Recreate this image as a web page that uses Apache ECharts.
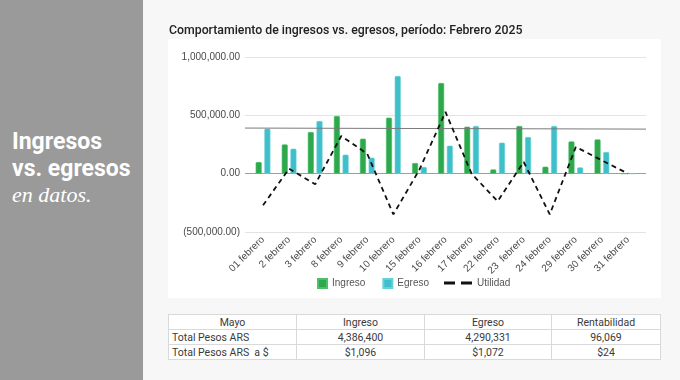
<!DOCTYPE html>
<html>
<head>
<meta charset="utf-8">
<script src="https://cdn.jsdelivr.net/npm/echarts@6/dist/echarts.min.js"></script>
<style>
html,body{margin:0;padding:0;width:680px;height:380px;overflow:hidden;background:#f7f7f7;font-family:Roboto,"Liberation Sans",sans-serif;}
#side{position:absolute;left:0;top:0;width:143px;height:380px;background:#9a9a9a;}
#side .t{position:absolute;left:12px;color:#fff;font-family:Roboto,sans-serif;font-weight:700;font-size:23px;line-height:26px;}
#side .s{position:absolute;left:12px;color:#fff;font-family:"Liberation Serif","DejaVu Serif",serif;font-style:italic;font-size:22px;}
#box{position:absolute;left:168px;top:39px;width:493px;height:259px;background:#fff;}
#chart{position:absolute;left:0;top:0;width:680px;height:380px;}
table{position:absolute;left:168px;top:314px;border-collapse:collapse;background:#fff;font-family:Roboto,sans-serif;font-size:10.5px;color:#3a3a3a;}
td{border:1px solid #d9d9d9;height:14px;padding:0 3px;text-align:center;white-space:nowrap;}
td.l{text-align:left;}
</style>
</head>
<body>
<div id="side">
  <div class="t" style="top:129px">Ingresos</div>
  <div class="t" style="top:156px">vs. egresos</div>
  <div class="s" style="top:182px">en datos.</div>
</div>
<div id="box"></div>
<table id="tbl"></table>
<div id="chart"></div>
<script>
var categorias = ["01 febrero","2 febrero","3 febrero","8 febrero","9 febrero","10 febrero","15 febrero","16 febrero","17 febrero","22 febrero","23  febrero","24 febrero","29 febrero","30 febrero","31 febrero"];
var ingreso = [100000,251000,357000,494000,300000,480000,91000,777000,403000,37000,409000,60000,277000,294000,0];
var egreso  = [386000,214000,451000,163000,137000,837000,57000,240000,409000,266000,314000,409000,54000,186000,0];
var utilidad = [-271000,43000,-91000,323000,170000,-349000,35000,529000,0,-237000,100000,-349000,229000,114000,0];
var lineaReferencia = [391000,382000];
var yTicks = [-500000,0,500000,1000000];

var tablaEncabezado = ["Mayo","Ingreso","Egreso","Rentabilidad"];
var tablaFila1 = ["Total Pesos ARS","4,386,400","4,290,331","96,069"];
var tablaFila2 = ["Total Pesos ARS\u00a0 a $","$1,096","$1,072","$24"];

(function(){
  var widths=[128,128,127,109];
  var html='';
  [tablaEncabezado,tablaFila1,tablaFila2].forEach(function(r,ri){
    html+='<tr>';
    r.forEach(function(c,ci){
      html+='<td class="'+(ci===0&&ri>0?'l':'')+'" style="width:'+(widths[ci]-7)+'px">'+c+'</td>';
    });
    html+='</tr>';
  });
  document.getElementById('tbl').innerHTML=html;
})();

function fmt(v){
  var s=Math.abs(v).toLocaleString('en-US',{minimumFractionDigits:2,maximumFractionDigits:2});
  return v<0?'('+s+')':s;
}

var chart = echarts.init(document.getElementById('chart'),null,{renderer:'canvas'});
var axisFont = {fontFamily:'"Liberation Sans",Arial,sans-serif',fontSize:10,color:'#4a4a4a'};
chart.setOption({
  animation:false,
  textStyle:{fontFamily:'"Liberation Sans",Arial,sans-serif'},
  title:{text:'Comportamiento de ingresos vs. egresos, período: Febrero 2025',left:169,top:25,padding:0,
    textStyle:{fontFamily:'Roboto,sans-serif',fontSize:12.3,fontWeight:500,color:'#222'}},
  legend:[
    {data:[{name:'Ingreso',icon:'rect'},{name:'Egreso',icon:'rect'}],left:317,top:278,padding:0,itemWidth:9,itemHeight:9,itemGap:17,
      textStyle:{fontSize:10,color:'#555'}},
    {data:[{name:'Utilidad',icon:'path://M0,0h11v3h-11zM17,0h11v3h-11z'}],left:444,top:278,padding:0,itemWidth:28,itemHeight:3,itemGap:7,
      itemStyle:{color:'#111'},textStyle:{fontSize:10,color:'#555'}}
  ],
  grid:[
    {left:250,right:39,top:57,bottom:148,containLabel:false},
    {left:245,right:34,top:57,bottom:148,containLabel:false}
  ],
  xAxis:[
    {type:'category',gridIndex:0,data:categorias,boundaryGap:true,
      axisLine:{show:false},axisTick:{show:false},
      axisLabel:Object.assign({rotate:45,interval:0,margin:6},axisFont)},
    {type:'value',gridIndex:1,min:0,max:1,show:false}
  ],
  yAxis:[
    {type:'value',gridIndex:0,min:-500000,max:1000000,interval:500000,show:false,splitLine:{show:false}},
    {type:'value',gridIndex:1,min:yTicks[0],max:yTicks[yTicks.length-1],interval:500000,
      axisLine:{show:false},axisTick:{show:false},
      axisLabel:Object.assign({margin:5,formatter:fmt},axisFont),
      splitLine:{lineStyle:{color:['#e3e3e3','#9e9e9e','#e3e3e3','#e3e3e3'],width:1}}}
  ],
  series:[
    {name:'Ingreso',type:'bar',xAxisIndex:0,yAxisIndex:0,data:ingreso,barWidth:6,barGap:'45%',
      itemStyle:{color:'#2ea84c',borderColor:'#4cbf68',borderWidth:0.6,borderRadius:[1,1,0,0]}},
    {name:'Egreso',type:'bar',xAxisIndex:0,yAxisIndex:0,data:egreso,barWidth:6,barGap:'45%',
      itemStyle:{color:'#3ebfca',borderColor:'#66d0d8',borderWidth:0.6,borderRadius:[1,1,0,0]}},
    {name:'Utilidad',type:'line',xAxisIndex:0,yAxisIndex:0,data:utilidad,symbol:'none',z:5,
      itemStyle:{color:'#111'},
      lineStyle:{color:'#111',width:1.8,type:[5,4]}},
    {name:'Referencia',type:'line',xAxisIndex:1,yAxisIndex:1,symbol:'none',z:3,silent:true,
      data:[[0,lineaReferencia[0]],[1,lineaReferencia[1]]],
      lineStyle:{color:'#7a7a7a',width:1}}
  ]
});
</script>
</body>
</html>
